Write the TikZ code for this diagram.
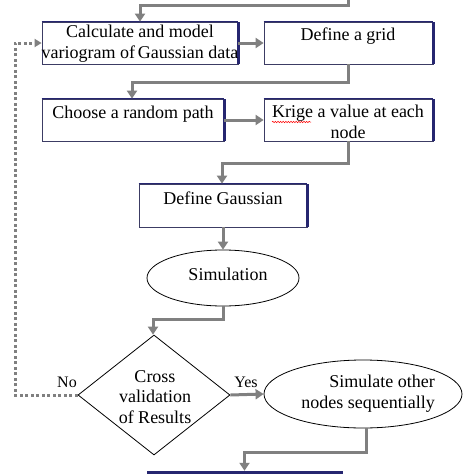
\documentclass[tikz,border=0pt]{standalone}
\usepackage{fontspec}
\setmainfont{Liberation Serif}
\usetikzlibrary{arrows.meta,shapes.geometric,decorations.pathmorphing}
\definecolor{navy}{RGB}{38,38,112}
\definecolor{edgeg}{RGB}{60,60,100}
\definecolor{argray}{RGB}{128,128,128}
\begin{document}
\begin{tikzpicture}[x=1pt,y=-1pt,
  box/.style={rectangle,draw=edgeg,line width=0.8pt,inner sep=0pt},
  txt/.style={font=\fontsize{18}{20.5}\selectfont,align=center,inner sep=0pt,anchor=base},
  lbl/.style={font=\fontsize{16}{19}\selectfont,inner sep=0pt,anchor=base},
  oval/.style={ellipse,draw=black,line width=0.8pt,inner sep=0pt},
  dec/.style={diamond,draw=black,line width=0.8pt,inner sep=0pt},
  arr/.style={draw=argray,line width=3pt,-{Triangle[length=8pt,width=10pt]}},
  dotarr/.style={draw=argray,line width=3pt,dash pattern=on 3pt off 2.5pt,-{Triangle[length=7pt,width=8pt]}},
  rim/.style={draw=navy,line width=2.4pt}
]
\useasboundingbox (0,0) rectangle (474,474);
\fill[white] (0,0) rectangle (474,474);

% boxes
\node[box,minimum width=196pt,minimum height=42pt] (b1) at (140,43) {};
\node[box,minimum width=169pt,minimum height=42pt] (b2) at (348.5,43) {};
\node[box,minimum width=182pt,minimum height=42pt] (b3) at (133,120) {};
\node[box,minimum width=169pt,minimum height=42pt] (b4) at (348.5,120) {};
\node[box,minimum width=168pt,minimum height=43pt] (g) at (223,205.5) {};
\foreach \n in {b1,b2,b3,b4,g}{
  \draw[navy,line width=1.6pt] (\n.north west) -- (\n.north east);
  \draw[rim] ([yshift=-0.8pt]\n.north east) -- ([yshift=0.8pt]\n.south east);
}
\node[oval,minimum width=152pt,minimum height=56pt] (sim) at (223,278) {};
\node[dec,minimum width=152pt,minimum height=120pt] (d) at (154,395) {};
\node[oval,minimum width=198pt,minimum height=68pt] (s2) at (363,394) {};
\node[rectangle,fill=navy,draw=navy,minimum width=195pt,minimum height=20pt,inner sep=0pt] (bot) at (244.5,481) {};

% texts
\node[txt] (t1) at (140,58) {Calculate and model\\variogram of\,Gaussian data};
\node[txt] (t2) at (348,40) {Define a grid};
\node[txt] (t3) at (133,118) {Choose a random path};
\node[txt] (t4) at (348,138) {Krige a value at each\\node};
\node[txt] (t5) at (223,204) {Define Gaussian};
\node[txt] (t6) at (228,280) {Simulation};
\node[txt] (t7) at (155,423) {Cross\\validation\\of Results};
\node[txt,align=right,anchor=base east] (t8) at (435,408) {Simulate other\\nodes sequentially};
\node[lbl] (no) at (67,387) {No};
\node[lbl] (yes) at (246,387) {Yes};
\draw[red,line width=0.5pt,decorate,decoration={snake,amplitude=0.7pt,segment length=2.6pt}] (272,122) -- (311,122);

% connectors
\coordinate (top) at (348,-10);
\draw[arr] (top) -- (348,5) -| (b1.north);
\draw[arr] (b1.east) -- (b2.west);
\draw[arr] (b2.south) -- ++(0,18) -| ([xshift=-1pt]b3.north);
\draw[arr] (b3.east) -- (b4.west);
\draw[arr] (b4.south) -- ++(0,22) -| ([xshift=-1pt]g.north);
\draw[arr] (g.south) -- (sim.north);
\draw[arr] (sim.south) -- ++(0,13) -| ([xshift=-1pt]d.north);
\draw[arr] (d.east) -- (s2.west);
\draw[arr] ([xshift=3.5pt]s2.south) -- ++(0,24) -| (bot.north);
\coordinate (lp) at (15,395);
\draw[dotarr] (d.west) -- (lp) |- (b1.west);
\end{tikzpicture}
\end{document}
